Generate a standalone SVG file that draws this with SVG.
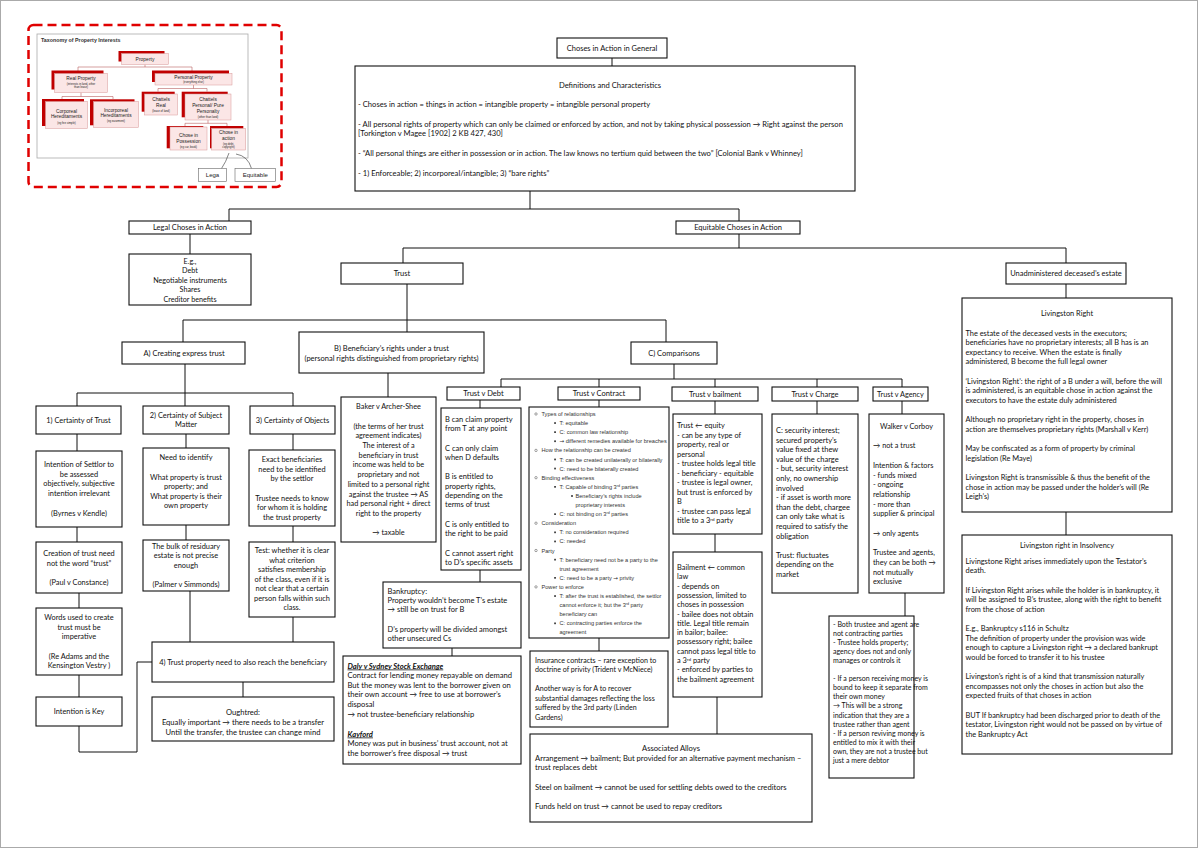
<svg xmlns="http://www.w3.org/2000/svg" width="1200" height="848" viewBox="0 0 1200 848">
<style>
.bx{fill:#fff;stroke:#111;stroke-width:1.1}
.t{font-family:Lato,"Liberation Sans",sans-serif;font-size:7.5px;fill:#111}
.d{font-size:7.6px}
.s70{font-size:7px}
.s71{font-size:7.1px}
.s72{font-size:7.2px}
.s73{font-size:7.3px}
.s74{font-size:7.4px}
.c{text-anchor:middle}
.cn line,.cn path{stroke:#111;stroke-width:1;fill:none}
.li{font-family:"Liberation Sans",Arial,sans-serif;font-size:5.6px;fill:#333}
.ar{font-family:"DejaVu Sans",sans-serif}
.ia{font-family:"Liberation Sans",Arial,sans-serif;fill:#222;text-anchor:middle}
.rb{fill:#c00000}
.rf{fill:#fbe6e6;stroke:#d89898;stroke-width:0.5}
.il{stroke:#b86060;stroke-width:0.6;fill:none}
.bu{font-weight:bold;font-style:italic;text-decoration:underline}
</style>
<rect x="0.5" y="0.5" width="1197" height="847" fill="#fff" stroke="#aaa" stroke-width="1"/>

<g id="inset">
<rect x="28.5" y="25" width="253" height="162" rx="5" fill="#fff" stroke="#e00000" stroke-width="2.5" stroke-dasharray="9 5"/>
<rect x="37" y="34" width="211" height="124" fill="#fff" stroke="#aaa" stroke-width="0.8"/>
<text x="41" y="42" font-family="Liberation Sans,Arial,sans-serif" font-size="5.3" font-weight="bold" fill="#333">Taxonomy of Property Interests</text>
<path class="il" d="M145,64.5V67M78,67H192M78,67V71M192,67V71M81,92.5V96.5M62,96.5H113M62,96.5V99M113,96.5V99M193.5,85V88.5M158,88.5H207M158,88.5V91.5M207,88.5V91.5M208,120V123.3M185,123.3H227M185,123.3V126M227,123.3V126"/>
<rect class="rb" x="118.5" y="51" width="46" height="10.5"/><rect class="rf" x="121.5" y="53.5" width="47" height="11"/>
<text class="ia" x="145" y="60.8" font-size="5">Property</text>
<rect class="rb" x="51.5" y="70.5" width="52" height="19"/><rect class="rf" x="54.5" y="73.5" width="53" height="19"/>
<text class="ia" x="81" y="80" font-size="4.8">Real Property</text>
<text class="ia" x="81" y="84.7" font-size="2.8">(interests in land, other</text>
<text class="ia" x="81" y="87.7" font-size="2.8">than lease)</text>
<rect class="rb" x="152" y="70.5" width="77" height="11.5"/><rect class="rf" x="155" y="73.5" width="77" height="11.5"/>
<text class="ia" x="193.5" y="79.2" font-size="4.8">Personal Property</text>
<text class="ia" x="193.5" y="83.3" font-size="2.8">(everything else)</text>
<rect class="rb" x="42" y="99" width="42" height="27"/><rect class="rf" x="45.5" y="101.5" width="42" height="27"/>
<text class="ia" x="66.5" y="112.5" font-size="4.8">Corporeal</text>
<text class="ia" x="66.5" y="118.3" font-size="4.8">Hereditaments</text>
<text class="ia" x="66.5" y="123.5" font-size="2.8">(eg fee simple)</text>
<rect class="rb" x="90" y="99.3" width="44.5" height="26"/><rect class="rf" x="93.5" y="101.5" width="45" height="26"/>
<text class="ia" x="116" y="111.6" font-size="4.8">Incorporeal</text>
<text class="ia" x="116" y="117.3" font-size="4.8">Hereditaments</text>
<text class="ia" x="116" y="121.8" font-size="2.8">(eg easement)</text>
<rect class="rb" x="141.7" y="91.7" width="33" height="20"/><rect class="rf" x="144.5" y="94" width="33" height="21"/>
<text class="ia" x="161" y="101" font-size="4.8">Chattels</text>
<text class="ia" x="161" y="107" font-size="4.8">Real</text>
<text class="ia" x="161" y="111.8" font-size="2.8">(lease of land)</text>
<rect class="rb" x="181.7" y="91.7" width="46" height="25.6"/><rect class="rf" x="185" y="94" width="46" height="26"/>
<text class="ia" x="208" y="101" font-size="4.8">Chattels</text>
<text class="ia" x="208" y="107" font-size="4.8">Personal/ Pure</text>
<text class="ia" x="208" y="112.8" font-size="4.8">Personalty</text>
<text class="ia" x="208" y="117.5" font-size="2.8">(other than land)</text>
<rect class="rb" x="166.7" y="126" width="36.6" height="22.3"/><rect class="rf" x="170" y="127" width="37" height="23"/>
<text class="ia" x="188.5" y="137" font-size="4.8">Chose in</text>
<text class="ia" x="188.5" y="142.8" font-size="4.8">Possession</text>
<text class="ia" x="188.5" y="147.6" font-size="2.8">(eg car, book)</text>
<rect class="rb" x="210" y="126" width="33.3" height="22.3"/><rect class="rf" x="211.7" y="128.3" width="34" height="21.7"/>
<text class="ia" x="228.5" y="134" font-size="4.8">Chose in</text>
<text class="ia" x="228.5" y="139.8" font-size="4.8">action</text>
<text class="ia" x="228.5" y="144.5" font-size="2.8">(eg debt,</text>
<text class="ia" x="228.5" y="148" font-size="2.8">copyright)</text>
<path d="M229,153 Q226,162 221.5,168.5M236,154 Q248,156 251.5,168.5" stroke="#333" stroke-width="0.6" fill="none"/>
<rect x="198.5" y="168.5" width="28" height="13" fill="#fff" stroke="#666" stroke-width="0.6"/>
<text class="ia" x="212.5" y="177.4" font-size="6">Lega</text>
<rect x="235" y="168.5" width="40.5" height="13" fill="#fff" stroke="#666" stroke-width="0.6"/>
<text class="ia" x="255.3" y="177.4" font-size="6">Equitable</text>
</g>

<g class="cn" id="connectors">
<line x1="612" y1="58" x2="612" y2="66"/>
<line x1="530" y1="191" x2="530" y2="209"/>
<path d="M229,221V209H739V221"/>
<line x1="190" y1="234" x2="190" y2="254"/>
<line x1="739" y1="234" x2="739" y2="248"/>
<path d="M403,263V248H1066V263"/>
<line x1="407" y1="284" x2="407" y2="332"/>
<path d="M183,342V320H666V342"/>
<line x1="185" y1="364" x2="185" y2="406"/>
<path d="M77,406V393H293V406"/>
<line x1="77" y1="434" x2="77" y2="451"/>
<line x1="77" y1="527" x2="77" y2="542"/>
<line x1="79" y1="593" x2="79" y2="608"/>
<line x1="79" y1="675" x2="79" y2="697"/>
<path d="M79,726V752H137V662H152"/>
<line x1="186" y1="434" x2="186" y2="448"/>
<line x1="186" y1="525" x2="186" y2="540"/>
<line x1="190" y1="591" x2="190" y2="642"/>
<line x1="293" y1="434" x2="293" y2="450"/>
<line x1="293" y1="526" x2="293" y2="542"/>
<line x1="293" y1="617" x2="293" y2="642"/>
<line x1="243" y1="682" x2="243" y2="697"/>
<line x1="388" y1="373" x2="388" y2="397"/>
<line x1="674" y1="364" x2="674" y2="379"/>
<path d="M501,387V379H902V387"/>
<line x1="599" y1="379" x2="599" y2="387"/>
<line x1="715" y1="379" x2="715" y2="387"/>
<line x1="817" y1="379" x2="817" y2="387"/>
<line x1="480" y1="400" x2="480" y2="408"/>
<line x1="480" y1="570" x2="480" y2="582"/>
<line x1="452" y1="648" x2="452" y2="656"/>
<line x1="599" y1="400" x2="599" y2="407"/>
<line x1="599" y1="638" x2="599" y2="651"/>
<line x1="715" y1="401" x2="715" y2="414"/>
<line x1="715" y1="534" x2="715" y2="552"/>
<line x1="717" y1="697" x2="717" y2="734"/>
<line x1="817" y1="401" x2="817" y2="414"/>
<line x1="902" y1="401" x2="902" y2="414"/>
<line x1="905" y1="593" x2="905" y2="616"/>
<line x1="1066" y1="284" x2="1066" y2="298"/>
<line x1="1066" y1="512" x2="1066" y2="535"/>
</g>

<g id="n-general"><rect class="bx" x="557" y="38" width="110" height="20"/>
<text class="t c" x="612" y="50.5">Choses in Action in General</text></g>

<g id="n-definitions"><rect class="bx" x="355" y="66" width="500" height="125"/>
<text class="t d c" x="610" y="87.5">Definitions and Characteristics</text>
<text class="t d" x="358" y="106.5">- Choses in action = things in action = intangible property = intangible personal property</text>
<text class="t d" x="358" y="126.5">- All personal rights of property which can only be claimed or enforced by action, and not by taking physical possession → Right against the person</text>
<text class="t d" x="358" y="135.5">[Torkington v Magee [1902] 2 KB 427, 430]</text>
<text class="t d" x="358" y="155.5">- “All personal things are either in possession or in action. The law knows no tertium quid between the two” [Colonial Bank v Whinney]</text>
<text class="t d" x="358" y="175.5">- 1) Enforceable; 2) incorporeal/intangible; 3) “bare rights”</text></g>

<g id="n-legal"><rect class="bx" x="129" y="221" width="122" height="13"/>
<text class="t c" x="190" y="230.2">Legal Choses in Action</text></g>
<g id="n-eg"><rect class="bx" x="129" y="254" width="122" height="51"/>
<text class="t s72 c" x="190" y="263.5">E.g.,</text>
<text class="t s72 c" x="190" y="273">Debt</text>
<text class="t s72 c" x="190" y="282.5">Negotiable instruments</text>
<text class="t s72 c" x="190" y="292">Shares</text>
<text class="t s72 c" x="190" y="301.5">Creditor benefits</text></g>
<g id="n-equitable"><rect class="bx" x="676" y="221" width="124" height="13"/>
<text class="t c" x="738" y="230.2">Equitable Choses in Action</text></g>
<g id="n-trust"><rect class="bx" x="341" y="263" width="122" height="21"/>
<text class="t c" x="402" y="276">Trust</text></g>
<g id="n-unadmin"><rect class="bx" x="1006" y="263" width="120" height="21"/>
<text class="t c" x="1066" y="276">Unadministered deceased’s estate</text></g>

<g id="n-a"><rect class="bx" x="122" y="342" width="123" height="22"/>
<text class="t c" x="184" y="356">A) Creating express trust</text></g>
<g id="n-b"><rect class="bx" x="299" y="332" width="185" height="41"/>
<text class="t c" x="391.5" y="351">B) Beneficiary’s rights under a trust</text>
<text class="t c" x="391.5" y="361">(personal rights distinguished from proprietary rights)</text></g>
<g id="n-c"><rect class="bx" x="631" y="342" width="86" height="22"/>
<text class="t c" x="674" y="356">C) Comparisons</text></g>

<g id="n-cert1"><rect class="bx" x="36" y="406" width="85" height="28"/>
<text class="t s74 c" x="78.5" y="422.5">1) Certainty of Trust</text></g>
<g id="n-cert2"><rect class="bx" x="143" y="406" width="86" height="28"/>
<text class="t s74 c" x="186" y="417.5">2) Certainty of Subject</text>
<text class="t s74 c" x="186" y="427">Matter</text></g>
<g id="n-cert3"><rect class="bx" x="250" y="406" width="85" height="28"/>
<text class="t s74 c" x="292.5" y="422.5">3) Certainty of Objects</text></g>

<g id="n-intention"><rect class="bx" x="36" y="451" width="86" height="76"/>
<text class="t s74 c" x="79" y="467">Intention of Settlor to</text>
<text class="t s74 c" x="79" y="476.6">be assessed</text>
<text class="t s74 c" x="79" y="486.2">objectively, subjective</text>
<text class="t s74 c" x="79" y="495.8">intention irrelevant</text>
<text class="t s74 c" x="79" y="515.5">(Byrnes v Kendle)</text></g>
<g id="n-creation"><rect class="bx" x="36" y="542" width="86" height="51"/>
<text class="t s74 c" x="79" y="556">Creation of trust need</text>
<text class="t s74 c" x="79" y="565.5">not the word “trust”</text>
<text class="t s74 c" x="79" y="584.5">(Paul v Constance)</text></g>
<g id="n-words"><rect class="bx" x="36" y="608" width="86" height="67"/>
<text class="t s74 c" x="79" y="620">Words used to create</text>
<text class="t s74 c" x="79" y="629.5">trust must be</text>
<text class="t s74 c" x="79" y="639">imperative</text>
<text class="t s74 c" x="79" y="658.5">(Re Adams and the</text>
<text class="t s74 c" x="79" y="668">Kensington Vestry )</text></g>
<g id="n-key"><rect class="bx" x="36" y="697" width="86" height="29"/>
<text class="t s74 c" x="79" y="714">Intention is Key</text></g>

<g id="n-identify"><rect class="bx" x="143" y="448" width="86" height="77"/>
<text class="t s74 c" x="186" y="460">Need to identify</text>
<text class="t s74 c" x="186" y="479.5">What property is trust</text>
<text class="t s74 c" x="186" y="489">property; and</text>
<text class="t s74 c" x="186" y="498.5">What property is their</text>
<text class="t s74 c" x="186" y="508">own property</text></g>
<g id="n-bulk"><rect class="bx" x="143" y="540" width="86" height="51"/>
<text class="t s74 c" x="186" y="548.5">The bulk of residuary</text>
<text class="t s74 c" x="186" y="558">estate is not precise</text>
<text class="t s74 c" x="186" y="567.5">enough</text>
<text class="t s74 c" x="186" y="587">(Palmer v Simmonds)</text></g>

<g id="n-exact"><rect class="bx" x="249" y="450" width="86" height="76"/>
<text class="t s74 c" x="292" y="462">Exact beneficiaries</text>
<text class="t s74 c" x="292" y="471.5">need to be identified</text>
<text class="t s74 c" x="292" y="481">by the settlor</text>
<text class="t s74 c" x="292" y="500.5">Trustee needs to know</text>
<text class="t s74 c" x="292" y="510">for whom it is holding</text>
<text class="t s74 c" x="292" y="519.5">the trust property</text></g>
<g id="n-test"><rect class="bx" x="249" y="542" width="86" height="75"/>
<text class="t s74 c" x="292" y="553">Test: whether it is clear</text>
<text class="t s74 c" x="292" y="562.5">what criterion</text>
<text class="t s74 c" x="292" y="572">satisfies membership</text>
<text class="t s74 c" x="292" y="581.5">of the class, even if it is</text>
<text class="t s74 c" x="292" y="591">not clear that a certain</text>
<text class="t s74 c" x="292" y="600.5">person falls within such</text>
<text class="t s74 c" x="292" y="610">class.</text></g>

<g id="n-four"><rect class="bx" x="152" y="642" width="182" height="40"/>
<text class="t c" x="243" y="664.5">4) Trust property need to also reach the beneficiary</text></g>
<g id="n-oughtred"><rect class="bx" x="152" y="697" width="182" height="44"/>
<text class="t d c" x="243" y="715">Oughtred:</text>
<text class="t d c" x="243" y="725">Equally important → there needs to be a transfer</text>
<text class="t d c" x="243" y="734.5">Until the transfer, the trustee can change mind</text></g>

<g id="n-baker"><rect class="bx" x="341" y="397" width="95" height="145"/>
<text class="t s73 c" x="388.5" y="409.2">Baker v Archer-Shee</text>
<text class="t s73 c" x="388.5" y="428.5">(the terms of her trust</text>
<text class="t s73 c" x="388.5" y="438.2">agreement indicates)</text>
<text class="t s73 c" x="388.5" y="448">The interest of a</text>
<text class="t s73 c" x="388.5" y="457.7">beneficiary in trust</text>
<text class="t s73 c" x="388.5" y="467.4">income was held to be</text>
<text class="t s73 c" x="388.5" y="477.1">proprietary and not</text>
<text class="t s73 c" x="388.5" y="486.8">limited to a personal right</text>
<text class="t s73 c" x="388.5" y="496.5">against the trustee → AS</text>
<text class="t s73 c" x="388.5" y="506.2">had personal right + direct</text>
<text class="t s73 c" x="388.5" y="515.9">right to the property</text>
<text class="t s73 c" x="388.5" y="535.2">→ taxable</text></g>

<g id="n-tdebt"><rect class="bx" x="447" y="387" width="73" height="13"/>
<text class="t c" x="483.5" y="396.2">Trust v Debt</text></g>
<g id="n-debt"><rect class="bx" x="441" y="408" width="80" height="162"/>
<text class="t" x="445" y="422">B can claim property</text>
<text class="t" x="445" y="431.3">from T at any point</text>
<text class="t" x="445" y="450.8">C can only claim</text>
<text class="t" x="445" y="460.1">when D defaults</text>
<text class="t" x="445" y="479.2">B is entitled to</text>
<text class="t" x="445" y="488.5">property rights,</text>
<text class="t" x="445" y="497.8">depending on the</text>
<text class="t" x="445" y="507.1">terms of trust</text>
<text class="t" x="445" y="527">C is only entitled to</text>
<text class="t" x="445" y="536.3">the right to be paid</text>
<text class="t" x="445" y="556">C cannot assert right</text>
<text class="t" x="445" y="565.3">to D’s specific assets</text></g>
<g id="n-bankruptcy"><rect class="bx" x="383" y="582" width="138" height="66"/>
<text class="t" x="387.5" y="593.5">Bankruptcy:</text>
<text class="t" x="387.5" y="602.8">Property wouldn’t become T’s estate</text>
<text class="t" x="387.5" y="612.1">→ still be on trust for B</text>
<text class="t" x="387.5" y="631.6">D’s property will be divided amongst</text>
<text class="t" x="387.5" y="641.3">other unsecured Cs</text></g>
<g id="n-daly"><rect class="bx" x="343" y="656" width="178" height="108"/>
<text class="t d bu" x="347.5" y="668.5">Daly v Sydney Stock Exchange</text>
<text class="t d" x="347.5" y="678">Contract for lending money repayable on demand</text>
<text class="t d" x="347.5" y="687.6">But the money was lent to the borrower given on</text>
<text class="t d" x="347.5" y="697.2">their own account → free to use at borrower’s</text>
<text class="t d" x="347.5" y="706.8">disposal</text>
<text class="t d" x="347.5" y="716.6">→ not trustee-beneficiary relationship</text>
<text class="t d bu" x="347.5" y="736.5">Kayford</text>
<text class="t d" x="347.5" y="746.2">Money was put in business’ trust account, not at</text>
<text class="t d" x="347.5" y="755.9">the borrower’s free disposal → trust</text></g>

<g id="n-tcontract"><rect class="bx" x="558" y="387" width="82" height="13"/>
<text class="t c" x="599" y="396.2">Trust v Contract</text></g>
<g id="n-contract"><rect class="bx" x="529" y="407" width="140" height="231"/>
<g fill="none" stroke="#444" stroke-width="0.5">
<circle cx="536" cy="414" r="1.2"/><circle cx="536" cy="450.4" r="1.2"/><circle cx="536" cy="477.7" r="1.2"/><circle cx="536" cy="523.2" r="1.2"/><circle cx="536" cy="550.5" r="1.2"/><circle cx="536" cy="586.9" r="1.2"/>
</g>
<g fill="#333">
<rect x="554.2" y="422.2" width="1.7" height="1.7"/><rect x="554.2" y="431.3" width="1.7" height="1.7"/><rect x="554.2" y="440.4" width="1.7" height="1.7"/><rect x="554.2" y="458.6" width="1.7" height="1.7"/><rect x="554.2" y="467.7" width="1.7" height="1.7"/><rect x="554.2" y="486" width="1.7" height="1.7"/><rect x="554.2" y="513.3" width="1.7" height="1.7"/><rect x="554.2" y="531.5" width="1.7" height="1.7"/><rect x="554.2" y="540.6" width="1.7" height="1.7"/><rect x="554.2" y="558.8" width="1.7" height="1.7"/><rect x="554.2" y="577" width="1.7" height="1.7"/><rect x="554.2" y="595.2" width="1.7" height="1.7"/><rect x="554.2" y="622.5" width="1.7" height="1.7"/>
<circle cx="572" cy="495.9" r="1"/>
</g>
<text class="li" x="541.5" y="416">Types of relationships</text>
<text class="li" x="559.5" y="425.1">T: equitable</text>
<text class="li" x="559.5" y="434.2">C: common law relationship</text>
<text class="li" x="559.5" y="443.3"><tspan class="ar">→</tspan> different remedies available for breaches</text>
<text class="li" x="541.5" y="452.4">How the relationship can be created</text>
<text class="li" x="559.5" y="461.5">T: can be created unilaterally or bilaterally</text>
<text class="li" x="559.5" y="470.6">C: need to be bilaterally created</text>
<text class="li" x="541.5" y="479.7">Binding effectiveness</text>
<text class="li" x="559.5" y="488.8">T: Capable of binding 3<tspan dy="-1.8" font-size="3.6">rd</tspan><tspan dy="1.8"> parties</tspan></text>
<text class="li" x="575.5" y="497.9">Beneficiary’s rights include</text>
<text class="li" x="575.5" y="507">proprietary interests</text>
<text class="li" x="559.5" y="516.1">C: not binding on 3<tspan dy="-1.8" font-size="3.6">rd</tspan><tspan dy="1.8"> parties</tspan></text>
<text class="li" x="541.5" y="525.2">Consideration</text>
<text class="li" x="559.5" y="534.3">T: no consideration required</text>
<text class="li" x="559.5" y="543.4">C: needed</text>
<text class="li" x="541.5" y="552.5">Party</text>
<text class="li" x="559.5" y="561.6">T: beneficiary need not be a party to the</text>
<text class="li" x="559.5" y="570.7">trust agreement</text>
<text class="li" x="559.5" y="579.8">C: need to be a party <tspan class="ar">→</tspan> privity</text>
<text class="li" x="541.5" y="588.9">Power to enforce</text>
<text class="li" x="559.5" y="598">T: after the trust is established, the settlor</text>
<text class="li" x="559.5" y="607.1">cannot enforce it; but the 3<tspan dy="-1.8" font-size="3.6">rd</tspan><tspan dy="1.8"> party</tspan></text>
<text class="li" x="559.5" y="616.2">beneficiary can</text>
<text class="li" x="559.5" y="625.3">C: contracting parties enforce the</text>
<text class="li" x="559.5" y="634.4">agreement</text></g>
<g id="n-insurance"><rect class="bx" x="530" y="651" width="138" height="76"/>
<text class="t s71" x="535" y="662.5">Insurance contracts – rare exception to</text>
<text class="t s71" x="535" y="672">doctrine of privity (Trident v McNiece)</text>
<text class="t s71" x="535" y="691.2">Another way is for A to recover</text>
<text class="t s71" x="535" y="700.8">substantial damages reflecting the loss</text>
<text class="t s71" x="535" y="710.4">suffered by the 3rd party (Linden</text>
<text class="t s71" x="535" y="720">Gardens)</text></g>

<g id="n-tbailment"><rect class="bx" x="672" y="387" width="86" height="14"/>
<text class="t c" x="715" y="396.7">Trust v bailment</text></g>
<g id="n-bail1"><rect class="bx" x="673" y="414" width="89" height="120"/>
<text class="t s74" x="677" y="428">Trust ← equity</text>
<text class="t s74" x="677" y="437.5">- can be any type of</text>
<text class="t s74" x="677" y="447">property, real or</text>
<text class="t s74" x="677" y="456.5">personal</text>
<text class="t s74" x="677" y="466">- trustee holds legal title</text>
<text class="t s74" x="677" y="475.5">- beneficiary - equitable</text>
<text class="t s74" x="677" y="485">- trustee is legal owner,</text>
<text class="t s74" x="677" y="494.5">but trust is enforced by</text>
<text class="t s74" x="677" y="504">B</text>
<text class="t s74" x="677" y="513.5">- trustee can pass legal</text>
<text class="t s74" x="677" y="523">title to a 3<tspan dy="-2.2" font-size="4.6">rd</tspan><tspan dy="2.2"> party</tspan></text></g>
<g id="n-bail2"><rect class="bx" x="673" y="552" width="89" height="145"/>
<text class="t s74" x="677" y="570">Bailment ← common</text>
<text class="t s74" x="677" y="579.3">law</text>
<text class="t s74" x="677" y="588.6">- depends on</text>
<text class="t s74" x="677" y="597.9">possession, limited to</text>
<text class="t s74" x="677" y="607.2">choses in possession</text>
<text class="t s74" x="677" y="616.5">- bailee does not obtain</text>
<text class="t s74" x="677" y="625.8">title. Legal title remain</text>
<text class="t s74" x="677" y="635.1">in bailor; bailee:</text>
<text class="t s74" x="677" y="644.4">possessory right; bailee</text>
<text class="t s74" x="677" y="653.7">cannot pass legal title to</text>
<text class="t s74" x="677" y="663">a 3<tspan dy="-2.2" font-size="4.6">rd</tspan><tspan dy="2.2"> party</tspan></text>
<text class="t s74" x="677" y="672.3">- enforced by parties to</text>
<text class="t s74" x="677" y="681.6">the bailment agreement</text></g>
<g id="n-alloys"><rect class="bx" x="530" y="734" width="282" height="88"/>
<text class="t d c" x="671" y="750.5">Associated Alloys</text>
<text class="t d" x="535" y="760.5">Arrangement → bailment; But provided for an alternative payment mechanism –</text>
<text class="t d" x="535" y="770.3">trust replaces debt</text>
<text class="t d" x="535" y="789.6">Steel on bailment → cannot be used for settling debts owed to the creditors</text>
<text class="t d" x="535" y="809.2">Funds held on trust → cannot be used to repay creditors</text></g>

<g id="n-tcharge"><rect class="bx" x="772" y="387" width="86" height="14"/>
<text class="t c" x="815" y="396.7">Trust v Charge</text></g>
<g id="n-charge"><rect class="bx" x="772" y="414" width="86" height="179"/>
<text class="t" x="776" y="433">C: security interest;</text>
<text class="t" x="776" y="442.6">secured property’s</text>
<text class="t" x="776" y="452.2">value fixed at thew</text>
<text class="t" x="776" y="461.8">value of the charge</text>
<text class="t" x="776" y="471.4">- but, security interest</text>
<text class="t" x="776" y="481">only, no ownership</text>
<text class="t" x="776" y="490.6">involved</text>
<text class="t" x="776" y="500.2">- if asset is worth more</text>
<text class="t" x="776" y="509.8">than the debt, chargee</text>
<text class="t" x="776" y="519.4">can only take what is</text>
<text class="t" x="776" y="529">required to satisfy the</text>
<text class="t" x="776" y="538.6">obligation</text>
<text class="t" x="776" y="557.8">Trust: fluctuates</text>
<text class="t" x="776" y="567.4">depending on the</text>
<text class="t" x="776" y="577">market</text></g>

<g id="n-tagency"><rect class="bx" x="873" y="387" width="55" height="14"/>
<text class="t s73 c" x="900.5" y="396.7">Trust v Agency</text></g>
<g id="n-agency1"><rect class="bx" x="869" y="414" width="75" height="179"/>
<text class="t s73 c" x="906.5" y="429">Walker v Corboy</text>
<text class="t s73" x="873" y="448.4">→ not a trust</text>
<text class="t s73" x="873" y="467.8">Intention &amp; factors</text>
<text class="t s73" x="873" y="477.5">- funds mixed</text>
<text class="t s73" x="873" y="487.2">- ongoing</text>
<text class="t s73" x="873" y="496.9">relationship</text>
<text class="t s73" x="873" y="506.6">- more than</text>
<text class="t s73" x="873" y="516.3">supplier &amp; principal</text>
<text class="t s73" x="873" y="535.7">→ only agents</text>
<text class="t s73" x="873" y="555.1">Trustee and agents,</text>
<text class="t s73" x="873" y="564.8">they can be both →</text>
<text class="t s73" x="873" y="574.5">not mutually</text>
<text class="t s73" x="873" y="584.2">exclusive</text></g>
<g id="n-agency2"><rect class="bx" x="829" y="616" width="85" height="162"/>
<text class="t s70" x="833" y="626.5">- Both trustee and agent are</text>
<text class="t s70" x="833" y="635.6">not contracting parties</text>
<text class="t s70" x="833" y="644.7">- Trustee holds property;</text>
<text class="t s70" x="833" y="653.8">agency does not and only</text>
<text class="t s70" x="833" y="662.9">manages or controls it</text>
<text class="t s70" x="833" y="681.1">- If a person receiving money is</text>
<text class="t s70" x="833" y="690.2">bound to keep it separate from</text>
<text class="t s70" x="833" y="699.3">their own money</text>
<text class="t s70" x="833" y="708.4">→ This will be a strong</text>
<text class="t s70" x="833" y="717.5">indication that they are a</text>
<text class="t s70" x="833" y="726.6">trustee rather than agent</text>
<text class="t s70" x="833" y="735.7">- If a person reviving money is</text>
<text class="t s70" x="833" y="744.8">entitled to mix it with their</text>
<text class="t s70" x="833" y="753.9">own, they are not a trustee but</text>
<text class="t s70" x="833" y="763">just a mere debtor</text></g>

<g id="n-livingston"><rect class="bx" x="962" y="298" width="210" height="214"/>
<text class="t s74 c" x="1067" y="315.5">Livingston Right</text>
<text class="t s74" x="965.5" y="335.5">The estate of the deceased vests in the executors;</text>
<text class="t s74" x="965.5" y="345">beneficiaries have no proprietary interests; all B has is an</text>
<text class="t s74" x="965.5" y="354.5">expectancy to receive. When the estate is finally</text>
<text class="t s74" x="965.5" y="364">administered, B become the full legal owner</text>
<text class="t s74" x="965.5" y="383.5">‘Livingston Right’: the right of a B under a will, before the will</text>
<text class="t s74" x="965.5" y="393">is administered, is an equitable chose in action against the</text>
<text class="t s74" x="965.5" y="402.5">executors to have the estate duly administered</text>
<text class="t s74" x="965.5" y="422">Although no proprietary right in the property, choses in</text>
<text class="t s74" x="965.5" y="431.5">action are themselves proprietary rights (Marshall v Kerr)</text>
<text class="t s74" x="965.5" y="451">May be confiscated as a form of property by criminal</text>
<text class="t s74" x="965.5" y="460.5">legislation (Re Maye)</text>
<text class="t s74" x="965.5" y="480">Livingston Right is transmissible &amp; thus the benefit of the</text>
<text class="t s74" x="965.5" y="489.5">chose in action may be passed under the holder’s will (Re</text>
<text class="t s74" x="965.5" y="499">Leigh’s)</text></g>
<g id="n-insolvency"><rect class="bx" x="962" y="535" width="210" height="219"/>
<text class="t s74 c" x="1067" y="547.5">Livingston right in Insolvency</text>
<text class="t s74" x="965.5" y="563.5">Livingstone Right arises immediately upon the Testator’s</text>
<text class="t s74" x="965.5" y="573">death.</text>
<text class="t s74" x="965.5" y="592.5">If Livingston Right arises while the holder is in bankruptcy, it</text>
<text class="t s74" x="965.5" y="602">will be assigned to B’s trustee, along with the right to benefit</text>
<text class="t s74" x="965.5" y="611.5">from the chose of action</text>
<text class="t s74" x="965.5" y="631">E.g., Bankruptcy s116 in Schultz</text>
<text class="t s74" x="965.5" y="640.5">The definition of property under the provision was wide</text>
<text class="t s74" x="965.5" y="650">enough to capture a Livingston right → a declared bankrupt</text>
<text class="t s74" x="965.5" y="659.5">would be forced to transfer it to his trustee</text>
<text class="t s74" x="965.5" y="679">Livingston’s right is of a kind that transmission naturally</text>
<text class="t s74" x="965.5" y="688.5">encompasses not only the choses in action but also the</text>
<text class="t s74" x="965.5" y="698">expected fruits of that choses in action</text>
<text class="t s74" x="965.5" y="717.5">BUT If bankruptcy had been discharged prior to death of the</text>
<text class="t s74" x="965.5" y="727">testator, Livingston right would not be passed on by virtue of</text>
<text class="t s74" x="965.5" y="736.5">the Bankruptcy Act</text></g>
</svg>
